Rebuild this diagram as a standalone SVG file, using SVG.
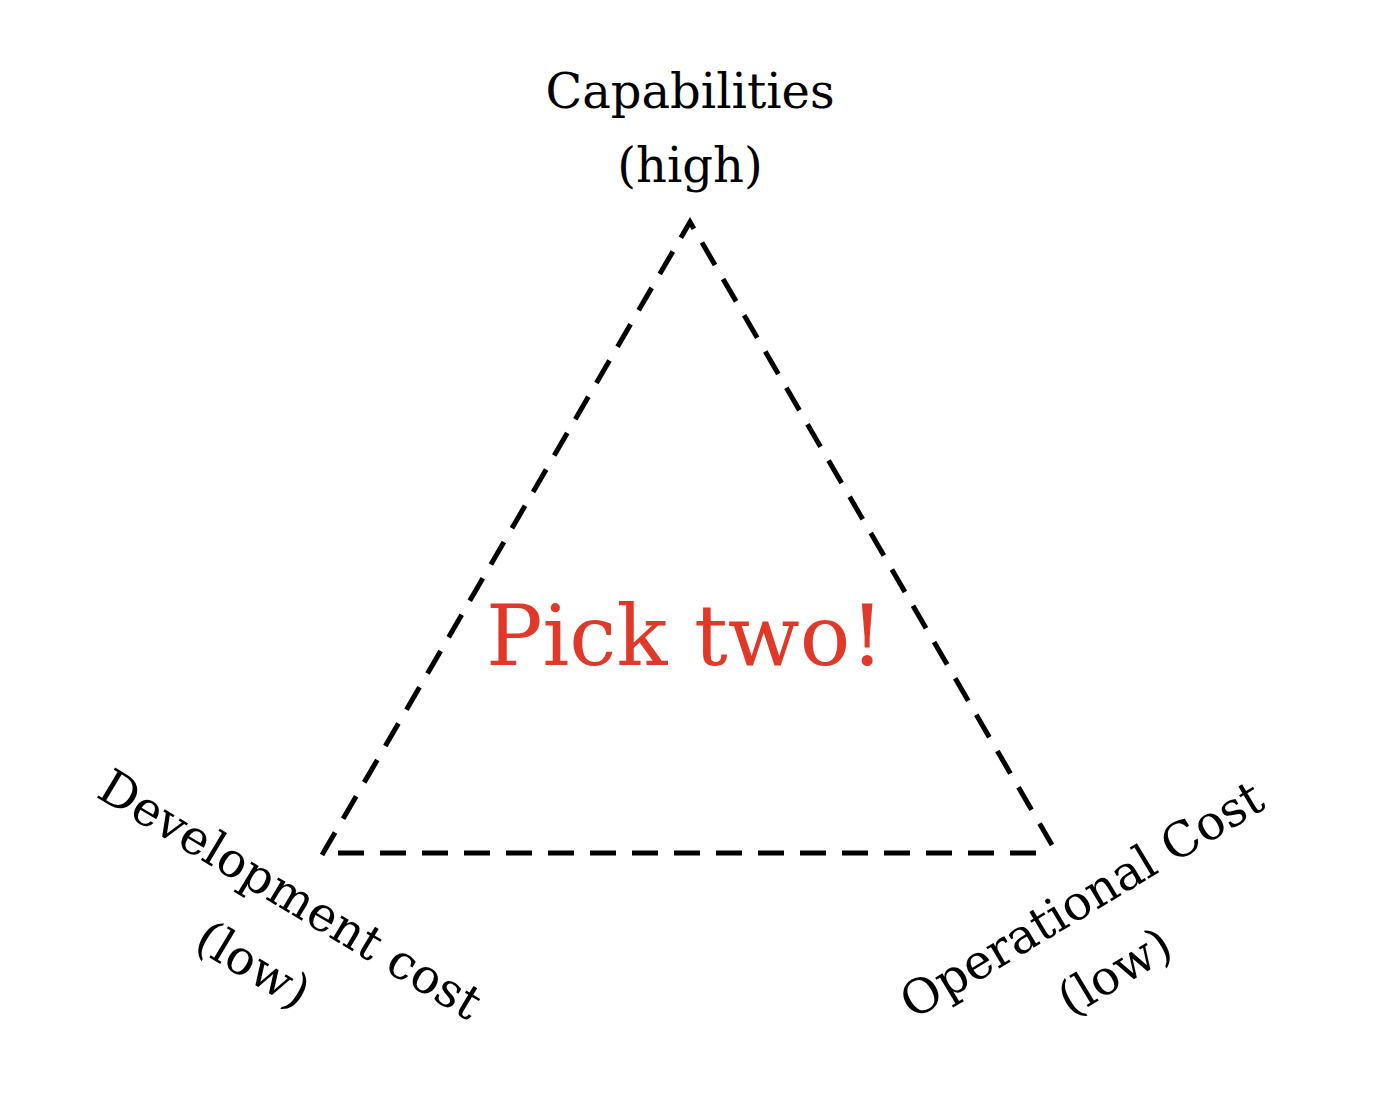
<svg xmlns="http://www.w3.org/2000/svg" width="1382" height="1114" viewBox="0 0 1382 1114">
<style>
.t{font-family:"DejaVu Serif","Liberation Serif",serif;font-size:48px;fill:#000;text-anchor:middle}
.e{stroke:#000;stroke-width:5;fill:none;stroke-dasharray:26 16}
</style>
<rect width="1382" height="1114" fill="#fff"/>
<g id="connectors">
<path class="e" d="M322,855 L690,222 L1052,845"/>
<path class="e" d="M338,853 L1052,853"/>
</g>
<g id="capabilities">
<text class="t" x="690" y="108">Capabilities</text>
<text class="t" x="690" y="182">(high)</text>
</g>
<g id="pick"><text x="685" y="665" style="font-family:'DejaVu Serif','Liberation Serif',serif;font-size:84px;fill:#e0392a;text-anchor:middle">Pick two!</text></g>
<g id="devcost">
<text class="t" transform="translate(290,895) rotate(31)" y="16">Development cost</text>
<text class="t" transform="translate(253,965) rotate(31)" y="16">(low)</text>
</g>
<g id="opcost">
<text class="t" transform="translate(1082,900) rotate(-31)" y="16">Operational Cost</text>
<text class="t" transform="translate(1115,972) rotate(-31)" y="16">(low)</text>
</g>
</svg>
